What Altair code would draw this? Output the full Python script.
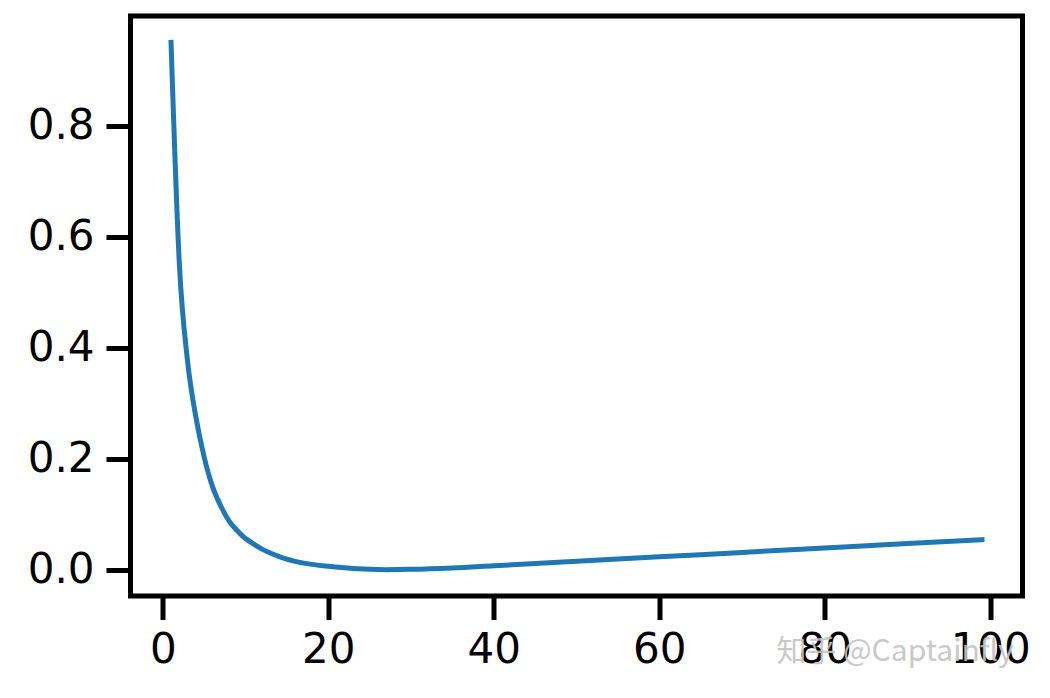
import altair as alt
import pandas as pd

# values
x_vals = [1, 2, 3, 4, 5, 6, 7, 8, 9, 10, 11, 12, 13, 14, 15, 16, 18, 20, 23, 27, 30, 35, 40, 50, 60, 70, 80, 90, 99]
y_vals = [0.950, 0.552, 0.375, 0.275, 0.203, 0.150, 0.115, 0.088, 0.070, 0.056, 0.046, 0.037, 0.030,
          0.024, 0.019, 0.015, 0.0095, 0.006, 0.002, 0.000, 0.0005, 0.003, 0.007, 0.015, 0.023,
          0.031, 0.039, 0.047, 0.054]
x_ticks = [0, 20, 40, 60, 80, 100]
y_ticks = [0.0, 0.2, 0.4, 0.6, 0.8]
watermark = ["知乎 @Captainfly"]

df = pd.DataFrame({"x": x_vals, "y": y_vals})

W, H = 892, 580

line = alt.Chart(df).mark_line(color="#1f77b4", strokeWidth=5, interpolate="monotone", strokeCap="square").encode(
    x=alt.X("x:Q", scale=alt.Scale(domain=[-3.9, 103.9], nice=False, zero=False),
            axis=alt.Axis(values=x_ticks, format="d", title=None, grid=False, domain=False,
                          tickSize=23.5, tickWidth=5, tickColor="black",
                          labelFont="DejaVu Sans", labelFontSize=42, labelColor="black",
                          labelPadding=10, labelFlush=False)),
    y=alt.Y("y:Q", scale=alt.Scale(domain=[-0.0475, 0.9975], nice=False, zero=False),
            axis=alt.Axis(values=y_ticks, format=".1f", title=None, grid=False, domain=False,
                          tickSize=24.5, tickWidth=5, tickColor="black",
                          labelFont="DejaVu Sans", labelFontSize=42, labelColor="black",
                          labelPadding=12, labelFlush=False)),
)

wm = alt.Chart(pd.DataFrame({"t": watermark})).mark_text(
    align="left", baseline="alphabetic", font="Noto Sans CJK SC", fontSize=30,
    color="#c4c4c4", opacity=0.9
).encode(text="t:N", x=alt.value(646), y=alt.value(645))

chart = alt.layer(line, wm).properties(
    width=W, height=H,
    autosize=alt.AutoSizeParams(type="none"),
    padding={"left": 122.5, "top": 8, "right": 10, "bottom": 80},
    background="white",
).configure_view(stroke="black", strokeWidth=5)

chart.save("out.html", embed_options={"renderer": "svg", "actions": False})
